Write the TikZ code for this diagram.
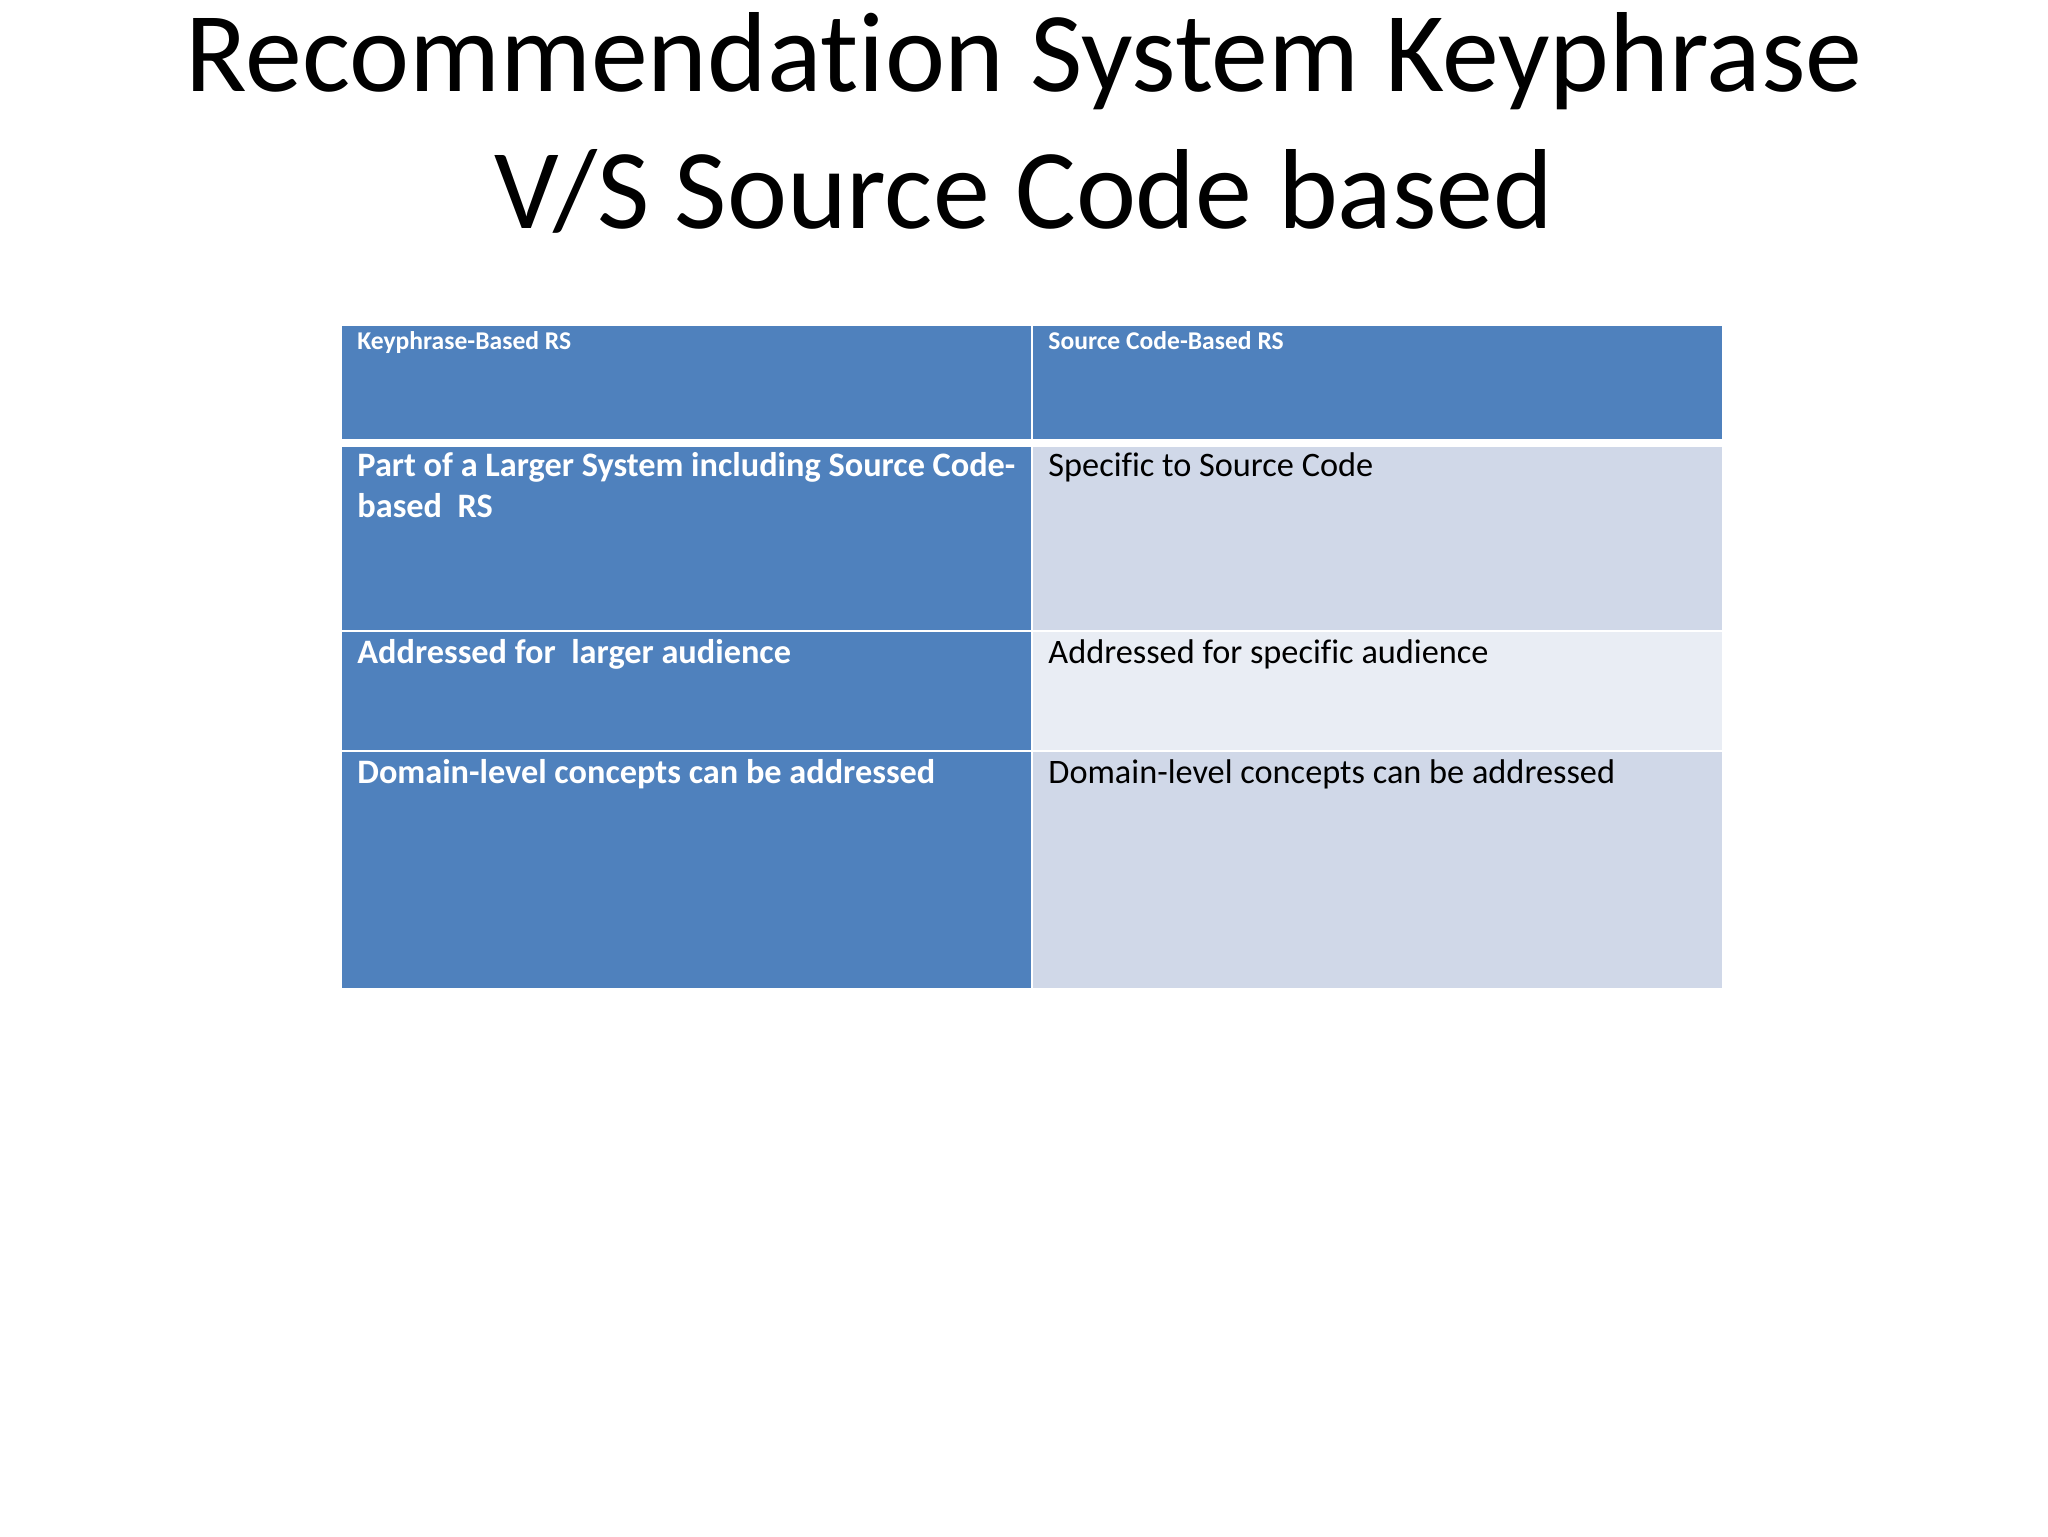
\documentclass[tikz,border=0pt]{standalone}
\usepackage{fontspec}
\setmainfont{Carlito}[Ligatures={NoCommon}]
\definecolor{hdrblue}{HTML}{4F81BD}
\definecolor{lightcell}{HTML}{D0D8E8}
\definecolor{palecell}{HTML}{E9EDF4}
\begin{document}
\begin{tikzpicture}[x=0.5pt,y=-0.5pt,
  titletext/.style={font=\fontsize{56.9}{68.5}\selectfont, text=black, align=center, inner sep=0pt},
  hdrtext/.style={font=\bfseries\fontsize{12.8}{15.4}\selectfont, text=white, anchor=base west, inner sep=0pt},
  lefttext/.style={font=\bfseries\fontsize{17.15}{20.5}\selectfont, text=white, anchor=base west, align=left, inner sep=0pt},
  righttext/.style={font=\fontsize{17.15}{20.5}\selectfont, text=black, anchor=base west, align=left, inner sep=0pt}
]
\useasboundingbox[fill=white] (0,0) rectangle (2048,1536);

% title
\node[titletext, anchor=base] (title1) at (1024,91) {Recommendation System Keyphrase};
\node[titletext, anchor=base] (title2) at (1024,228) {V/S Source Code based};

% cells
\fill[hdrblue] (342,326) rectangle (1031,439);
\fill[hdrblue] (1033,326) rectangle (1722,439);
\fill[hdrblue] (342,447) rectangle (1031,630);
\fill[lightcell] (1033,447) rectangle (1722,630);
\fill[hdrblue] (342,632) rectangle (1031,750);
\fill[palecell] (1033,632) rectangle (1722,750);
\fill[hdrblue] (342,752) rectangle (1031,988);
\fill[lightcell] (1033,752) rectangle (1722,988);

% header texts
\node[hdrtext] (h1) at (357,349) {Keyphrase-Based RS};
\node[hdrtext] (h2) at (1048,349) {Source Code-Based RS};

% rows (base anchor = baseline of the last line)
\node[lefttext] (r1a) at (357,517) {Part of a Larger System including Source Code-\\based\ \ RS};
\node[righttext] (r1b) at (1048,476) {Specific to Source Code};
\node[lefttext] (r2a) at (357,663) {Addressed for\ \ larger audience};
\node[righttext] (r2b) at (1048,663) {Addressed for specific audience};
\node[lefttext] (r3a) at (357,783) {Domain-level concepts can be addressed};
\node[righttext] (r3b) at (1048,783) {Domain-level concepts can be addressed};
\end{tikzpicture}
\end{document}
